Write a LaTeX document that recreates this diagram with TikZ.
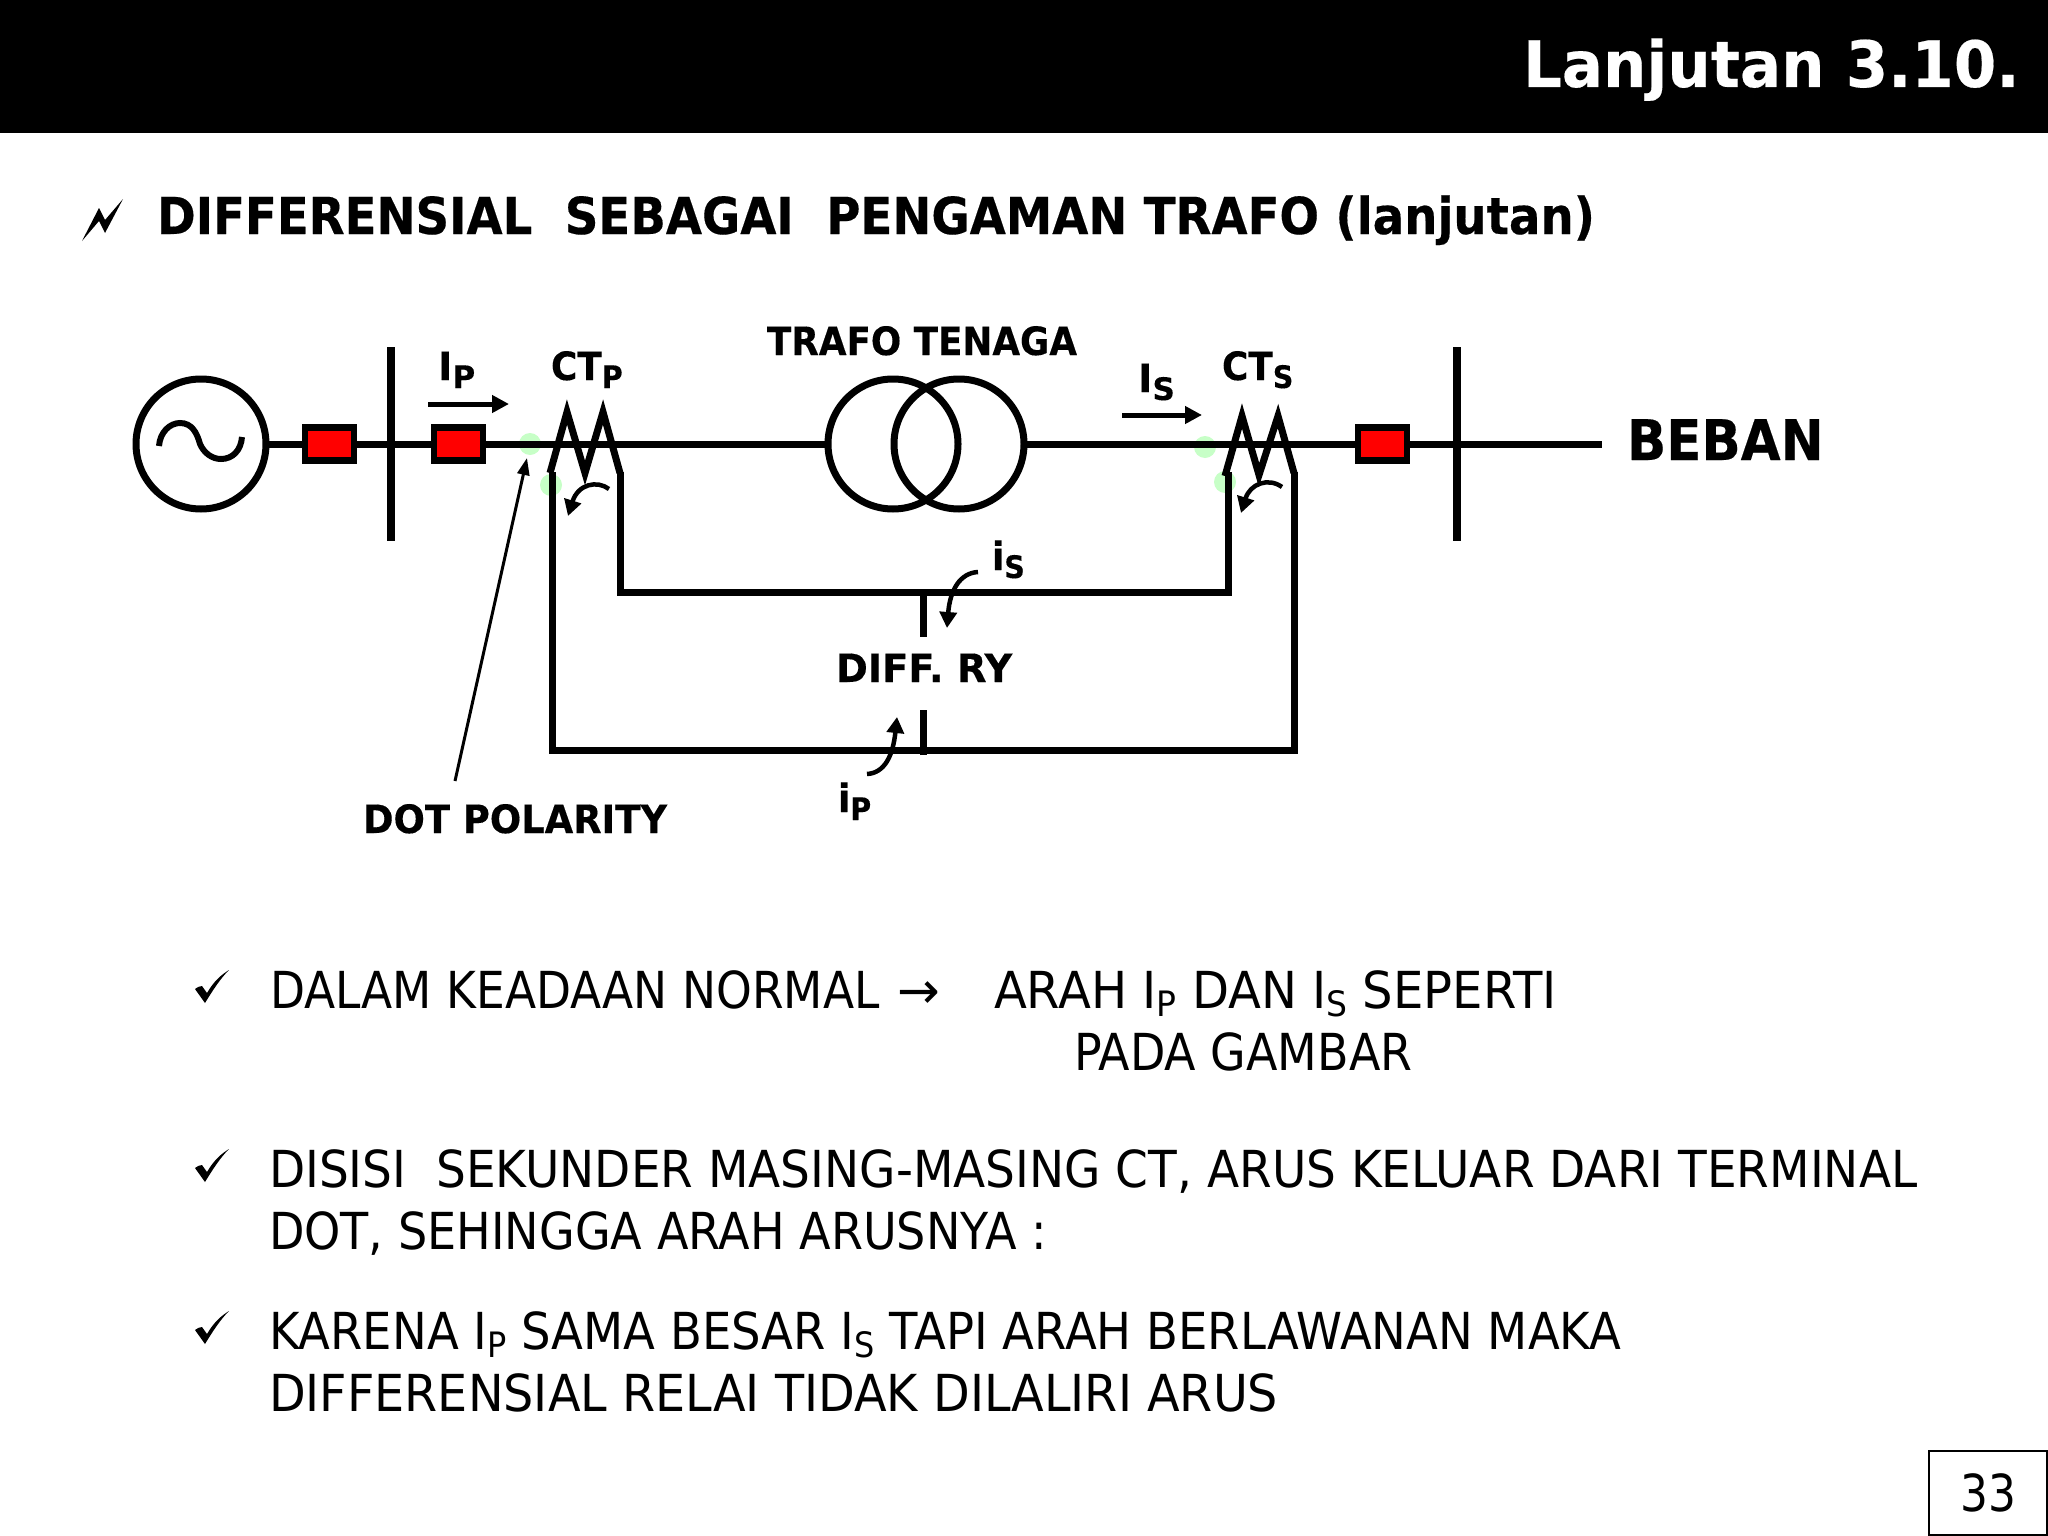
\documentclass[tikz,border=0pt]{standalone}
\usepackage{fontspec}
\setmainfont{DejaVu Sans}
\newfontfamily\bodyf{DejaVu Sans}
\newfontfamily\boldf{DejaVu Sans}
\usetikzlibrary{arrows.meta}
\newcommand{\bsub}[1]{\raisebox{-8pt}{\fontsize{35}{35}\selectfont #1}}
\newcommand{\lsub}[1]{\raisebox{-8pt}{\fontsize{31}{31}\selectfont\bfseries #1}}
\tikzset{
  x=1pt,y=-1pt,
  wire/.style={line width=7pt},
  ctwire/.style={line width=7pt,line join=miter},
  bus/.style={line width=8.5pt},
  breaker/.style={draw=black,fill=red,line width=6.5pt,minimum width=49pt,minimum height=33pt,inner sep=0pt,outer sep=0pt},
  circ/.style={draw=black,line width=7pt,circle,minimum size=130pt,inner sep=0pt,outer sep=0pt},
  txt/.style={anchor=base west,inner sep=0pt,outer sep=0pt,text=black},
  lab/.style={txt,font=\boldf\bfseries\fontsize{39}{39}\selectfont\addfontfeatures{FakeStretch=#1,FakeBold=0.3}},
  lab/.default=0.92,
  body/.style={txt,font=\bodyf\fontsize{51}{51}\selectfont\addfontfeatures{FakeStretch=#1}},
  curr/.style={line width=4.5pt,-{Triangle[length=16pt,width=17pt]}},
  dotmark/.style={fill=green!22!white,draw=none},
  chk/.pic={\fill[black] (0,19) .. controls (3,17) and (5,16) .. (7,16) -- (12,23) .. controls (19,11) and (26,5) .. (34,0) .. controls (25,9) and (18,20) .. (10,33) -- cycle;}
}
\begin{document}
\begin{tikzpicture}
\useasboundingbox (0,0) rectangle (2048,1536);
\fill[white] (0,0) rectangle (2048,1536);
\fill[black] (0,0) rectangle (2048,133);
\node[txt,text=white,font=\boldf\bfseries\fontsize{64}{64}\selectfont\addfontfeatures{FakeStretch=0.953,FakeBold=0.3}] (title) at (1523,87) {Lanjutan 3.10.};
% heading
\fill[black] (82,241) -- (99,208) -- (105,220) -- (123,199) -- (105,233) -- (99,221) -- cycle;
\node[txt,font=\boldf\bfseries\fontsize{51}{51}\selectfont\addfontfeatures{FakeStretch=0.915,FakeBold=0.3}] (head) at (157,234) {DIFFERENSIAL\ \ SEBAGAI\ \ PENGAMAN TRAFO (lanjutan)};
% green polarity dots
\fill[dotmark] (530,444) circle (11);
\fill[dotmark] (551,485) circle (11);
\fill[dotmark] (1205,447) circle (11);
\fill[dotmark] (1225,482) circle (11);
% one-line elements
\node[circ] (gen) at (201,444) {};
\node[breaker] (b1) at (329.5,444) {};
\node[breaker] (b2) at (458.5,444) {};
\node[breaker] (b3) at (1382.5,444) {};
\node[circ] (t1) at (893,444) {};
\node[circ] (t2) at (959,444) {};
\coordinate (bus1t) at (391,347); \coordinate (bus1b) at (391,541);
\coordinate (bus2t) at (1457,347); \coordinate (bus2b) at (1457,541);
\coordinate (loadend) at (1602,444);
\draw[wire] (gen.east) -- (b1.west);
\draw[wire] (b1.east) -- (b2.west);
\draw[wire] (b2.east) -- (t1.west);
\draw[wire] (t2.east) -- (b3.west);
\draw[wire] (b3.east) -- (loadend);
\draw[bus] (bus1t) -- (bus1b);
\draw[bus] (bus2t) -- (bus2b);
% sine
\draw[line width=6pt] (159,446) .. controls (160,432) and (170,423) .. (180,423) .. controls (192,423) and (197,433) .. (200,444) .. controls (204,453) and (212,459) .. (221,459) .. controls (233,459) and (241,450) .. (242,437);
% current transformers
\coordinate (cpl) at (552,750); \coordinate (cpr) at (620,592);
\coordinate (csl) at (1228,592); \coordinate (csr) at (1294,750);
\draw[ctwire] (550,473) -- (567,412) -- (585,473) -- (603,412) -- (620,473);
\draw[ctwire] (1225,476) -- (1242,416) -- (1259,475) -- (1278,416) -- (1294,473);
\draw[ctwire] (552,472) -- (cpl) -- (csr) -- (1294,472);
\draw[ctwire] (620,472) -- (cpr) -- (csl) -- (1228,472);
% relay stubs
\coordinate (ru) at (923,592); \coordinate (rue) at (923,637);
\coordinate (rl) at (923,755); \coordinate (rle) at (923,710);
\draw[line width=7pt] (ru) -- (rue);
\draw[line width=7pt] (rl) -- (rle);
% current arrows
\coordinate (ipa) at (428,404); \coordinate (ipb) at (509,404);
\coordinate (isa) at (1122,415); \coordinate (isb) at (1202,415);
\draw[line width=5pt,-{Triangle[length=17pt,width=17pt]}] (ipa) -- (ipb);
\draw[line width=5pt,-{Triangle[length=17pt,width=17pt]}] (isa) -- (isb);
\draw[curr] (609,489) .. controls (597,480) and (578,484) .. (568,516);
\draw[curr] (1282,487) .. controls (1268,477) and (1250,484) .. (1241,513);
\draw[curr] (978,572) .. controls (960,573) and (950,590) .. (947,628);
\draw[curr] (867,774) .. controls (885,773) and (893,755) .. (897,717);
% dot polarity pointer
\coordinate (dpa) at (455,781); \coordinate (dpb) at (527,458);
\draw[line width=3pt,-{Triangle[length=17pt,width=12pt]}] (dpa) -- (dpb);
% labels
\node[lab=1.0] (lip) at (438,380) {I\lsub{P}};
\node[lab=0.92] (lctp) at (551,380) {CT\lsub{P}};
\node[lab=0.916] (ltrafo) at (767,355) {TRAFO TENAGA};
\node[lab=1.0] (lis) at (1138,392) {I\lsub{S}};
\node[lab=0.92] (lcts) at (1222,380) {CT\lsub{S}};
\node[lab=0.92] (lir) at (992,570) {i\lsub{S}};
\node[lab=0.985] (ldiff) at (836,682) {DIFF. RY};
\node[lab=0.92] (lipr) at (838,812) {i\lsub{P}};
\node[lab=0.945] (ldot) at (363,833) {DOT POLARITY};
\node[txt,font=\boldf\bfseries\fontsize{56}{56}\selectfont\addfontfeatures{FakeStretch=0.92,FakeBold=0.3}] (beban) at (1627,460) {BEBAN};
% bullets
\pic at (195,970) {chk};
\pic at (195,1149) {chk};
\pic at (195,1311) {chk};
\node[body=0.892] (l1a) at (270,1008) {DALAM KEADAAN NORMAL};
\node[body=1.0] (l1arrow) at (897,1008) {→};
\node[body=0.943] (l1b) at (994,1008) {ARAH I\bsub{P} DAN I\bsub{S} SEPERTI};
\node[body=0.901] (l2) at (1074,1070) {PADA GAMBAR};
\node[body=0.921] (l3) at (269,1187) {DISISI\ \ SEKUNDER MASING-MASING CT, ARUS KELUAR DARI TERMINAL};
\node[body=0.904] (l4) at (269,1249) {DOT, SEHINGGA ARAH ARUSNYA :};
\node[body=0.912] (l5) at (269,1349) {KARENA I\bsub{P} SAMA BESAR I\bsub{S} TAPI ARAH BERLAWANAN MAKA};
\node[body=0.935] (l6) at (269,1411) {DIFFERENSIAL RELAI TIDAK DILALIRI ARUS};
% page number
\node[draw=black,line width=2pt,fill=white,minimum width=118pt,minimum height=84pt,inner sep=0pt,font=\bodyf\fontsize{51}{51}\selectfont\addfontfeatures{FakeStretch=0.86}] (pg) at (1988,1493) {33};
\end{tikzpicture}
\end{document}
